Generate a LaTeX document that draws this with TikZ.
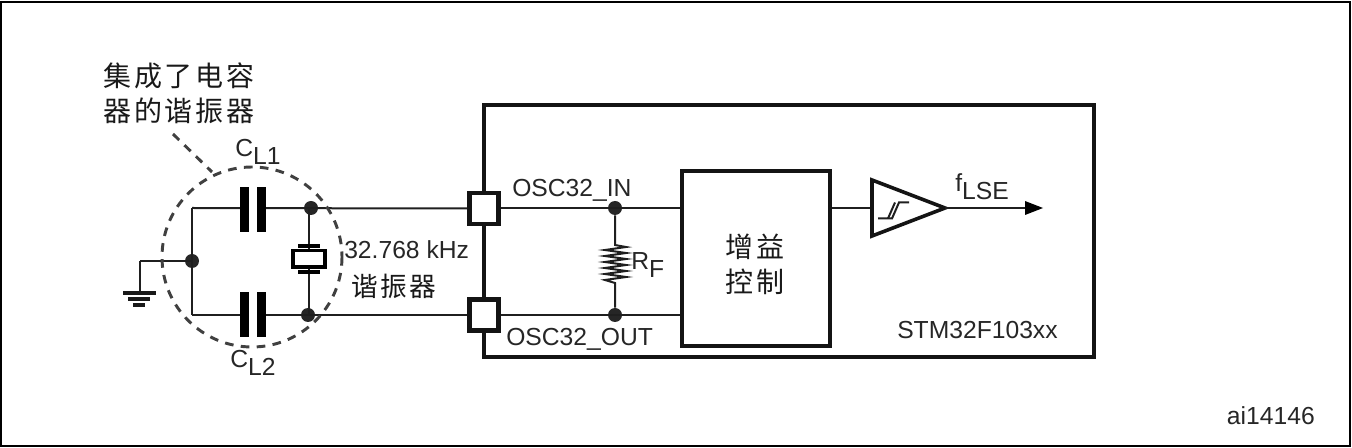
\documentclass[tikz,border=0pt]{standalone}
\usepackage{fontspec}
\setmainfont{Liberation Sans}
\newfontfamily\cjk[LetterSpace=10]{Noto Sans CJK SC}
\begin{document}
\begin{tikzpicture}[x=0.75pt,y=-0.75pt,
  wire/.style={line width=1.5pt,black!88},
  thick box/.style={draw=black!92,line width=2.7pt},
  pad/.style={draw=black!92,line width=3.4pt,fill=white,minimum width=21.5pt,minimum height=23pt,inner sep=0pt},
  plate/.style={fill=black,draw=none},
  dot/.style={circle,fill=black!85,draw=none,inner sep=0pt,minimum size=10.5pt},
  lbl/.style={inner sep=0pt,font=\fontsize{18.5}{20}\selectfont,text=black!85},
  zh/.style={inner sep=0pt,font=\cjk\fontsize{21}{26.5}\selectfont,text=black!90,align=left},
  dashline/.style={line width=2.2pt,black!75,dash pattern=on 6.5pt off 5.5pt}]
\useasboundingbox (0,0) rectangle (1352,448);
\draw[line width=1.6pt] (1,2) rectangle (1350,446);
% chip box
\draw[thick box] (484,105) rectangle (1094,357);
% wires
\coordinate (g0) at (192,261);
\coordinate (gc) at (140,261);
\coordinate (g1) at (140,293);
\coordinate (lt) at (192,208);
\coordinate (lb) at (192,315);
\node[dot] (dGnd) at (g0) {};
\node[dot] (dT) at (311,208) {};
\node[dot] (dB) at (308,315) {};
\node[dot] (dIn) at (615,208) {};
\node[dot] (dOut) at (615,315) {};
\node[pad] (pIn) at (484,208.5) {};
\node[pad] (pOut) at (484,315) {};
\node[thick box,minimum width=111pt,minimum height=131pt,inner sep=0pt] (ctl) at (756,258.5) {};
\draw[wire] (gc) -- (g0);
\draw[wire] (g1) -- (gc);
\draw[wire] (lt) -- (lb);
\draw[wire] (lt) -- (pIn.west);
\draw[wire] (lb) -- (pOut.west);
\draw[wire] (pIn.east) -- (ctl.west |- pIn.east);
\draw[wire] (pOut.east) -- (ctl.west |- pOut.east);
% ground
\draw[line width=3pt,black!90] (123,293) -- (156,293);
\draw[line width=3pt,black!90] (128,299.5) -- (150,299.5);
\draw[line width=3pt,black!90] (133,305.5) -- (145,305.5);
% capacitors
\fill[white] (248.5,200) rectangle (257,216);
\fill[white] (248.5,305) rectangle (257,325);
\fill[plate] (240,187) rectangle (248.5,232);
\fill[plate] (257,187) rectangle (266,232);
\fill[plate] (240,292) rectangle (248.5,337);
\fill[plate] (257,292) rectangle (266,337);
% crystal
\draw[wire] (309,208) -- (309,315);
\fill[plate] (298,244) rectangle (320,248);
\fill[plate] (298,270) rectangle (320,274.5);
\draw[line width=2.4pt,black,fill=white] (293,250.5) rectangle (325,267);
% resonator circle
\draw[dashline] (252,257) circle[radius=90];
\draw[dashline] (173,134) -- (212,172);
% feedback resistor
\draw[wire] (dIn) -- (615,245) -- (626,247) -- (605,250) -- (626,253) -- (605,256) -- (626,259) -- (605,262) -- (626,265) -- (605,268) -- (626,271) -- (605,274) -- (626,277) -- (605,280) -- (615,283) -- (dOut);
% schmitt buffer
\coordinate (trTop) at (872,180);
\coordinate (trBot) at (872,236);
\coordinate (trTip) at (945,208);
\coordinate (fOut) at (1043,208);
\draw[wire] (ctl.east |- trTip) -- (872,208);
\draw[thick box,line join=miter,fill=white] (trTop) -- (trTip) -- (trBot) -- cycle;
\draw[wire] (878,218.5) -- (892,218.5) -- (899,202.5) -- (909,202.5);
\draw[wire] (888,218.5) -- (895,202.5);
\draw[wire] (trTip) -- (1026,208);
\fill[black] (1025,201) -- (fOut) -- (1025,215) -- cycle;
% texts
\node[zh,anchor=north west] (t1) at (103,62.5) {集成了电容\\器的谐振器};
\node[zh,anchor=west,font=\cjk\fontsize{20}{26}\selectfont] (t2) at (351,286) {谐振器};
\node[lbl,anchor=west] (t3) at (344,250) {32.768 kHz};
\node[lbl,anchor=base west] (cl1) at (235,157) {C\raisebox{-5.5pt}{L1}};
\node[lbl,anchor=base west] (cl2) at (230,368) {C\raisebox{-5.5pt}{L2}};
\node[lbl,anchor=base west] (in) at (512,197) {OSC32\_IN};
\node[lbl,anchor=base west] (out) at (506,346) {OSC32\_OUT};
\node[lbl,anchor=base west] (rf) at (631,270) {R\raisebox{-5.5pt}{F}};
\node[zh,anchor=center,align=center] (ctlt) at (755,264) {增益\\控制};
\node[lbl,anchor=base west] (fl) at (955,192) {f\raisebox{-6pt}{LSE}};
\node[lbl,anchor=base west] (stm) at (897,339) {STM32F103xx};
\node[lbl,anchor=base east] (ai) at (1315,425) {ai14146};
\end{tikzpicture}
\end{document}
